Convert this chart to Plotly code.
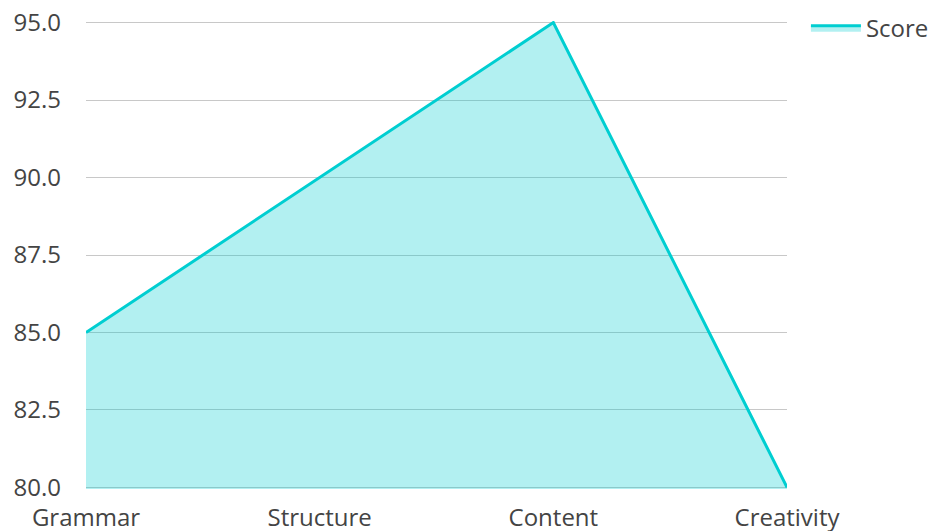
import plotly.graph_objects as go

categories = ["Grammar", "Structure", "Content", "Creativity"]
scores = [85, 90, 95, 80]
tick_vals = [80, 82.5, 85, 87.5, 90, 92.5, 95]

fig = go.Figure()
fig.add_trace(go.Scatter(
    x=categories, y=scores, name="Score", mode="lines",
    line=dict(color="#00CED1", width=3),
    fill="tozeroy", fillcolor="rgba(0,206,209,0.3)",
))
fig.update_layout(
    width=936, height=531,
    margin=dict(l=78, r=157, t=13, b=50, autoexpand=False),
    paper_bgcolor="white", plot_bgcolor="white",
    font=dict(family="Open Sans", size=24, color="#444"),
    showlegend=True,
    legend=dict(x=1.027, y=1.033, xanchor="left", yanchor="top",
                itemwidth=50,
                font=dict(size=24), bgcolor="rgba(0,0,0,0)"),
    xaxis=dict(showgrid=False, showline=False, zeroline=False, ticks="",
               range=[0, 3], ticklabelstandoff=12, automargin=False,
               ticklabeloverflow="allow"),
    yaxis=dict(range=[79.95, 95.05], tickvals=tick_vals, tickformat=".1f",
               showgrid=True, gridcolor="#c8c8c8", gridwidth=1,
               zeroline=False, showline=False, ticks="",
               ticklabelstandoff=24, automargin=False,
               ticklabeloverflow="allow"),
)
fig.write_html("out.html")
